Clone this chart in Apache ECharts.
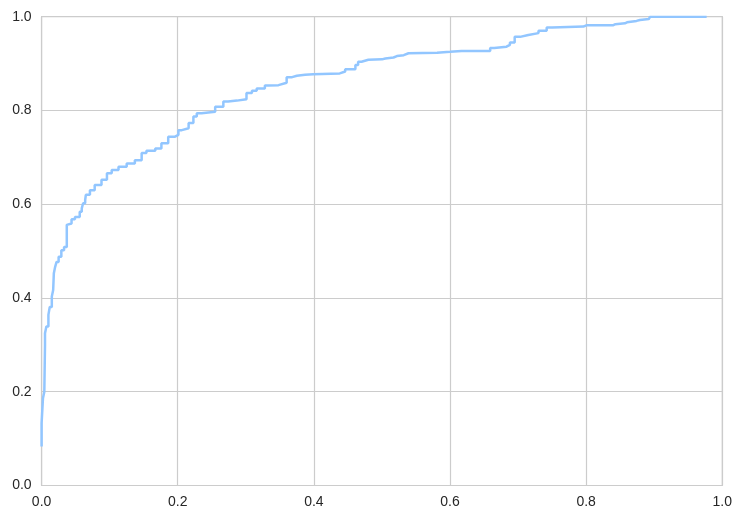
<!DOCTYPE html>
<html>
<head>
<meta charset="utf-8">
<script src="https://cdn.jsdelivr.net/npm/echarts@6/dist/echarts.min.js"></script>
<style>html,body{margin:0;padding:0;background:#fff}#c{width:740px;height:523px}</style>
</head>
<body>
<div id="c"></div>
<script>
// ROC curve: false positive rate (x) and true positive rate (y)
var fpr = [0.000,0.002,0.004,0.005,0.005,0.007,0.010,0.012,0.015,0.017,0.018,0.020,0.022,0.025,0.029,0.033,0.037,0.039,0.044,0.049,0.056,0.059,0.061,0.064,0.065,0.071,0.078,0.088,0.096,0.103,0.113,0.125,0.137,0.147,0.154,0.167,0.176,0.186,0.196,0.201,0.206,0.216,0.223,0.228,0.235,0.255,0.267,0.274,0.287,0.301,0.309,0.316,0.328,0.333,0.348,0.350,0.360,0.368,0.375,0.387,0.399,0.438,0.446,0.461,0.465,0.470,0.480,0.500,0.505,0.517,0.522,0.532,0.539,0.581,0.600,0.617,0.659,0.665,0.683,0.688,0.695,0.703,0.715,0.730,0.742,0.750,0.796,0.801,0.840,0.843,0.857,0.860,0.874,0.879,0.892,0.894,0.914,0.977];
var tpr = [0.083,0.133,0.186,0.200,0.300,0.325,0.339,0.364,0.381,0.403,0.417,0.453,0.467,0.477,0.488,0.502,0.509,0.556,0.559,0.568,0.573,0.584,0.591,0.602,0.609,0.620,0.630,0.641,0.652,0.666,0.673,0.680,0.687,0.694,0.709,0.714,0.719,0.730,0.744,0.748,0.758,0.762,0.773,0.787,0.794,0.797,0.808,0.819,0.821,0.824,0.837,0.842,0.847,0.853,0.854,0.858,0.859,0.871,0.874,0.876,0.877,0.879,0.883,0.888,0.897,0.904,0.908,0.909,0.911,0.913,0.916,0.918,0.922,0.923,0.925,0.927,0.927,0.933,0.936,0.940,0.945,0.957,0.961,0.965,0.970,0.977,0.979,0.982,0.982,0.984,0.986,0.988,0.991,0.993,0.995,0.998,1.000,1.000];
var ticks = [0.0, 0.2, 0.4, 0.6, 0.8, 1.0];

var data = fpr.map(function (x, i) { return [x, tpr[i]]; });
var chart = echarts.init(document.getElementById('c'), null, {renderer: 'canvas'});
var labelStyle = {color: '#262626', fontSize: 14, fontFamily: 'Liberation Sans, Arial, sans-serif',
  formatter: function (v) { return v.toFixed(1); }};
chart.setOption({
  animation: false,
  backgroundColor: '#ffffff',
  grid: {left: 41.6, right: 17.7, top: 16.7, bottom: 37.5, show: true, borderColor: '#cccccc', borderWidth: 1.2},
  xAxis: {type: 'value', min: 0, max: 1, interval: 0.2,
    axisLine: {show: false}, axisTick: {show: false},
    axisLabel: Object.assign({margin: 10}, labelStyle),
    splitLine: {show: true, lineStyle: {color: '#cccccc', width: 1.2}}},
  yAxis: {type: 'value', min: 0, max: 1, interval: 0.2,
    axisLine: {show: false}, axisTick: {show: false},
    axisLabel: Object.assign({margin: 10}, labelStyle),
    splitLine: {show: true, lineStyle: {color: '#cccccc', width: 1.2}}},
  series: [{type: 'line', data: data, step: 'start', showSymbol: false, symbol: 'none',
    lineStyle: {color: '#92C6FF', width: 2.5}, itemStyle: {color: '#92C6FF'}}]
});
</script>
</body>
</html>
